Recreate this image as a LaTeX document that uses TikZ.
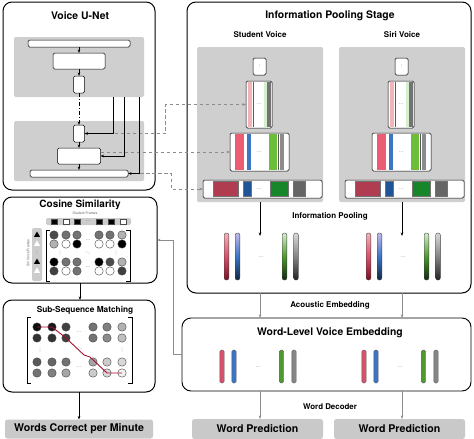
\documentclass[tikz,border=0pt]{standalone}
\usepackage{fontspec}
\setmainfont{TeX Gyre Heros}
\usetikzlibrary{arrows.meta,shapes.geometric}
\definecolor{ltRed}{HTML}{F2B3B9}
\definecolor{mdRed}{HTML}{D9506A}
\definecolor{dkRed}{HTML}{7A0F25}
\definecolor{ltBlue}{HTML}{C2B9EC}
\definecolor{mdBlue}{HTML}{3B76C6}
\definecolor{dkBlue}{HTML}{0E2745}
\definecolor{ltGreen}{HTML}{D3EFCB}
\definecolor{mdGreen}{HTML}{4E9A2F}
\definecolor{dkGreen}{HTML}{0C2A0B}
\definecolor{ltGray}{HTML}{D9D9D9}
\definecolor{mdGray}{HTML}{858585}
\definecolor{dkGray}{HTML}{222222}
\definecolor{blkRed}{HTML}{B03C52}
\definecolor{blkBlue}{HTML}{1F5496}
\definecolor{blkGreen}{HTML}{17852A}
\definecolor{stPink}{HTML}{EC5C72}
\definecolor{stGreen}{HTML}{6CBD3A}
\definecolor{pathRed}{HTML}{A3102F}
\begin{document}
\begin{tikzpicture}[x=1pt,y=-1pt,
	sz/.style 2 args={minimum width=#1pt,minimum height=#2pt,inner sep=0pt,outer sep=0pt},
	panel/.style={draw,line width=1pt,rounded corners=9pt,fill=white},
	stage/.style={fill=black!19,rounded corners=1.5pt},
	blk/.style={draw,fill=white,line width=0.5pt,rounded corners=1.5pt},
	result/.style={fill=black!21,rounded corners=2.5pt,font=\bfseries\fontsize{10.6}{12}\selectfont},
	title/.style={font=\bfseries\fontsize{10.4}{12}\selectfont},
	subtitle/.style={font=\bfseries\fontsize{8}{9}\selectfont},
	minitext/.style={font=\fontsize{3.5}{4}\selectfont,text=black!60,inner sep=0pt},
	ellip/.style={font=\fontsize{5}{5}\selectfont,text=black!55,inner sep=0pt},
	arr/.style={-{Stealth[length=3.5pt,width=2.6pt]},line width=0.6pt},
	garr/.style={arr,draw=black!45},
	link/.style={arr,draw=black!45,line width=0.8pt,dash pattern=on 3.5pt off 2.5pt},
	cell/.style={circle,draw=black!75,line width=0.4pt,minimum size=8.4pt,inner sep=0pt},
	fsq/.style={draw=black!70,line width=0.3pt,minimum size=5.5pt,inner sep=0pt},
	tri/.style={regular polygon,regular polygon sides=3,minimum size=7pt,inner sep=0pt}]
\useasboundingbox (0,0) rectangle (474,439);
% voice u-net
\node[panel,sz={152}{188}] (unet) at (79,96) {};
\node[title] (unet-t) at (80,16) {Voice U-Net};
\node[stage,sz={130}{60}] (egray) at (79,67) {};
\node[blk,sz={102}{7}] (ebar) at (79,43.5) {};
\node[blk,sz={52}{16}] (ebox) at (79,61) {};
\node[blk,sz={11}{17}] (esmall) at (79,84.5) {};
\node[stage,sz={130}{60}] (dgray) at (79,151) {};
\node[blk,sz={11}{17}] (dsmall) at (79,133.5) {};
\node[blk,sz={43}{16}] (dbox) at (79,156) {};
\node[blk,sz={98}{7}] (dbar) at (79,173.5) {};
\draw[arr] (ebar) -- (ebox);
\draw[arr] (ebox) -- (esmall);
\draw[arr,dash pattern=on 4pt off 2pt on 1pt off 2pt] (esmall) -- (dsmall);
\draw[arr] (dsmall) -- (dbox);
\draw[arr] (dbox) -- (dbar);
% cosine similarity
\node[panel,sz={154}{86}] (cos) at (80,240) {};
\node[title,font=\bfseries\fontsize{10}{12}\selectfont] (cos-t) at (80,205) {Cosine Similarity};
\node[minitext] (cos-top) at (85,213) {Student Frames};
\node[fill=black!20,rounded corners=2pt,sz={85}{7}] (cos-fr) at (88.5,221.5) {};
\foreach \x/\k in {54/100,66/0,77/100,99/100,111/100,123/0}
	\node[fsq,fill=black!\k] (fa\x) at (\x,221.5) {};
\node[ellip] at (88,221) {\dots};
\node[fill=black!20,rounded corners=2pt,sz={10}{53}] (cos-fl) at (37,254.5) {};
\foreach \y/\k in {235/100,244/0,262/100,271/0}
	\node[tri,fill=black!\k] (fb\y) at (37,\y) {};
\node[ellip,rotate=90] at (37,253) {\dots};
\node[minitext,rotate=90] (cos-left) at (28,253) {Siri Voice Frames};
\draw[line width=0.7pt] (50,230) -- (46,230) -- (46,281) -- (50,281);
\draw[line width=0.7pt] (126,230) -- (130,230) -- (130,281) -- (126,281);
\foreach \x/\k [count=\j] in {54/70,66/55,77/55,99/55,110/55,122/30}
	\node[cell,fill=black!\k] (a1\j) at (\x,235) {};
\foreach \x/\k [count=\j] in {54/30,66/0,77/100,99/0,110/0,122/100}
	\node[cell,fill=black!\k] (a2\j) at (\x,244) {};
\foreach \x/\k [count=\j] in {54/100,66/55,77/55,99/100,110/70,122/30}
	\node[cell,fill=black!\k] (a3\j) at (\x,262) {};
\foreach \x/\k [count=\j] in {54/75,66/0,77/55,99/0,110/0,122/75}
	\node[cell,fill=black!\k] (a4\j) at (\x,271) {};
\node[ellip] at (88,240) {\dots};
\node[ellip] at (88,267) {\dots};
\node[ellip,rotate=90] at (60,253) {\dots};
\node[ellip,rotate=90] at (116,253) {\dots};
\node[ellip,rotate=-45] at (88,253) {\dots};
% sub-sequence matching
\node[panel,sz={152}{92}] (sub) at (79,346) {};
\node[subtitle,font=\bfseries\fontsize{8.3}{9}\selectfont] (sub-t) at (85,310) {Sub-Sequence Matching};
\draw[line width=0.7pt] (31,317) -- (27,317) -- (27,383) -- (31,383);
\draw[line width=0.7pt] (128,317) -- (132,317) -- (132,383) -- (128,383);
\foreach \x/\k [count=\j] in {37/95,52/90,66/75,93/55,107/50,122/30}
	\node[cell,fill=black!\k] (m1\j) at (\x,327) {};
\foreach \x/\k [count=\j] in {37/80,52/80,66/75,93/55,107/45,122/25}
	\node[cell,fill=black!\k] (m2\j) at (\x,338) {};
\foreach \x/\k [count=\j] in {37/65,52/60,66/55,93/35,107/20,122/15}
	\node[cell,fill=black!\k] (m3\j) at (\x,362) {};
\foreach \x/\k [count=\j] in {37/55,52/50,66/35,93/20,107/15,122/5}
	\node[cell,fill=black!\k] (m4\j) at (\x,373) {};
\node[ellip] at (79,332) {\dots};
\node[ellip] at (79,367) {\dots};
\node[ellip,rotate=90] at (40,350) {\dots};
\node[ellip,rotate=90] at (122,350) {\dots};
\node[ellip,rotate=-45] at (80,348) {\dots};
\draw[pathRed,line width=0.9pt] (m11.center) -- (m12.center) -- (m23.center) -- (84,355) -- (90,357) -- (m45.center) -- (m46.center);
\node[result,sz={148}{19}] (wcpm) at (79,429) {Words Correct per Minute};
\draw[arr] (cos.south) -- (cos.south |- sub.north);
\draw[arr] (sub.south) -- (sub.south |- wcpm.north);
% information pooling stage
\node[panel,sz={284}{291}] (info) at (329,147.5) {};
\node[title] (info-t) at (330,16) {Information Pooling Stage};
\node[panel,line width=0.9pt,sz={289}{73}] (wl) at (326.5,354.5) {};
\node[title] (wl-t) at (330,333) {Word-Level Voice Embedding};
\node[subtitle] (pool-t) at (330,216) {Information Pooling};
\node[subtitle] (ac-t) at (330,305) {Acoustic Embedding};
\node[subtitle,font=\bfseries\fontsize{7.9}{9}\selectfont] (dec-t) at (330,407) {Word Decoder};
\foreach \s/\n/\lab in {0/s/Student Voice,142/r/Siri Voice}{
\begin{scope}[xshift=\s pt]
	\node[subtitle] (\n-t) at (260,35) {\lab};
	\node[stage,sz={126}{155}] (\n-panel) at (260,124.5) {};
	\node[blk,sz={13}{17}] (\n-top) at (259.5,66.5) {};
	\node[ellip] at (259.5,66) {:};
	\node[blk,sz={26}{47}] (\n-up) at (259,104.5) {};
	\fill[ltRed] (248,81.6) rectangle (252,127.4);
	\fill[black!65] (252.5,81.6) rectangle (254,127.4);
	\fill[ltGreen] (263.5,81.6) rectangle (266.5,127.4);
	\fill[black!55] (267,81.6) rectangle (270.5,127.4);
	\node[ellip] at (259,104) {\dots};
	\node[blk,sz={59}{38}] (\n-mid) at (259.5,152) {};
	\fill[stPink] (235,133.6) rectangle (244,170.4);
	\fill[mdBlue] (247,133.6) rectangle (250.5,170.4);
	\fill[stGreen] (269,133.6) rectangle (277,170.4);
	\fill[black!65] (277.5,133.6) rectangle (279,170.4);
	\fill[black!45] (279.5,133.6) rectangle (284,170.4);
	\node[ellip] at (259,152) {\dots};
	\node[blk,sz={119}{18}] (\n-bar) at (262.5,189) {};
	\filldraw[blkRed,draw=black!55,line width=0.3pt] (213,181.5) rectangle (238,196.5);
	\filldraw[blkBlue,draw=black!55,line width=0.3pt] (243,181.5) rectangle (251,196.5);
	\filldraw[blkGreen,draw=black!55,line width=0.3pt] (270,181.5) rectangle (288,196.5);
	\filldraw[black!60,draw=black!55,line width=0.3pt] (293,181.5) rectangle (305,196.5);
	\node[ellip] at (259,189) {\dots};
	\coordinate (\n-pool) at (260,236);
	\draw[arr] (\n-panel.south) -- (\n-pool);
	\foreach \x/\col in {226.5/Red,237.5/Blue,284.5/Green,296/Gray}
		\shadedraw[draw=black!75,line width=0.4pt,rounded corners=2pt,top color=lt\col,bottom color=dk\col,middle color=md\col] (\x-2.3,233) rectangle (\x+2.3,280);
	\node[ellip] at (261,257) {\dots};
	\foreach \x/\col in {222/Red,234/Blue,281.5/Green,294/Gray}
		\filldraw[fill=md\col,draw=black!65,line width=0.4pt,rounded corners=1.5pt] (\x-2.2,350) rectangle (\x+2.2,383);
	\node[ellip] at (258,367) {\dots};
	\node[result,sz={131}{20}] (\n-wp) at (257.5,429) {Word Prediction};
	\draw[garr] (info.south -| \n-panel.south) -- (wl.north -| \n-panel.south);
	\draw[garr] (wl.south -| \n-panel.south) -- (\n-wp.north -| \n-panel.south);
\end{scope}}
% links
\draw[link] (dsmall.east) -- ++(81,0) |- (s-up.west);
\draw[link] (dbox.east |- s-mid.west) -- (s-mid.west);
\draw[link] (dbar.east) -- ++(43,0) |- (s-bar.west);
\draw[arr] ([xshift=34pt]egray.south) |- (dsmall.east);
\draw[arr] ([xshift=45pt]egray.south) |- (dbox.east);
\draw[arr] ([xshift=60pt]egray.south) |- (dbar.east);
\draw[garr] (wl.west) -- ++(-9,0) |- (cos.east);
\end{tikzpicture}
\end{document}
